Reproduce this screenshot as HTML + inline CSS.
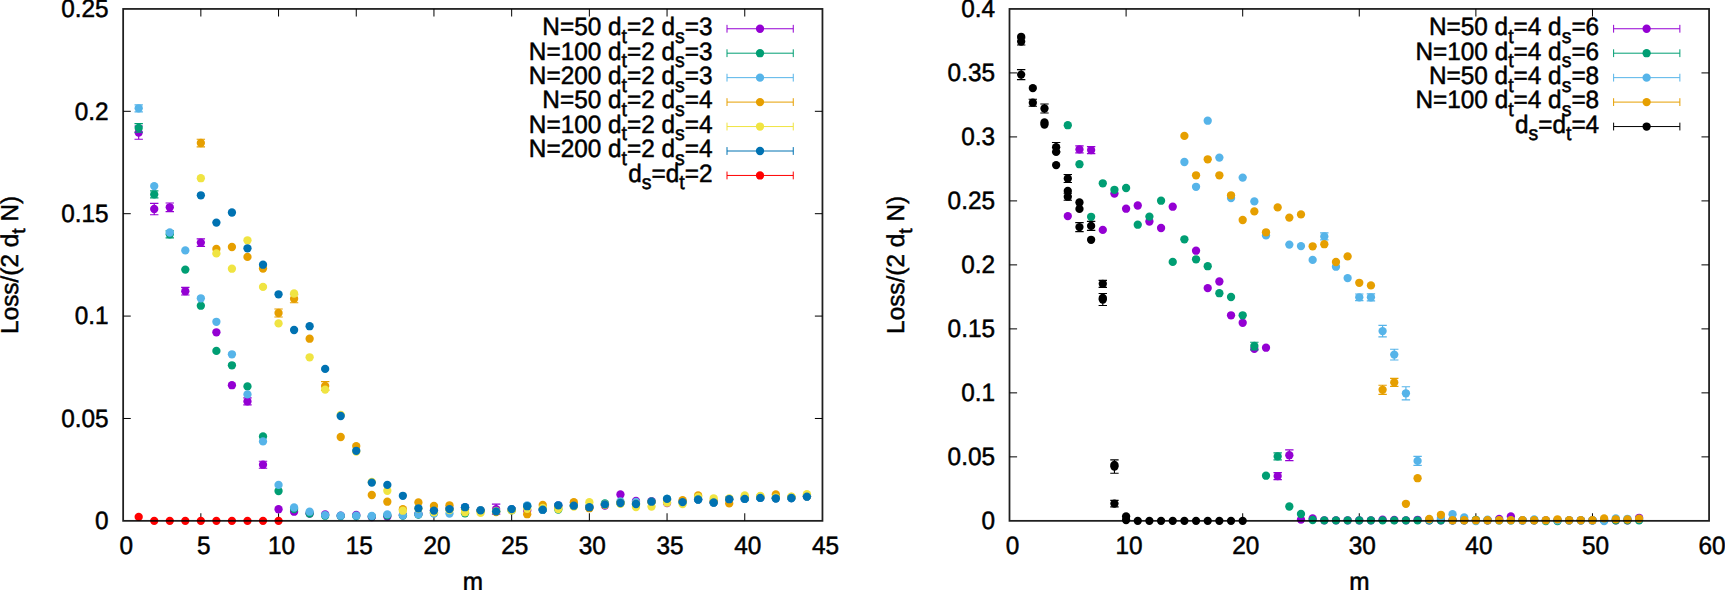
<!DOCTYPE html>
<html lang="en"><head><meta charset="utf-8"><title>Loss plots</title>
<style>
html,body{margin:0;padding:0;background:#fff}
body{width:1725px;height:590px;overflow:hidden}
svg{display:block}
svg text{text-rendering:geometricPrecision;font-family:"Liberation Sans",sans-serif;font-size:24.35px;fill:#000;stroke:#000;stroke-width:0.5px}
</style></head><body>
<svg width="1725" height="590" viewBox="0 0 1725 590">
<rect width="1725" height="590" fill="#fff"/>
<g>
<path d="M200.85 520.85v-7.6M200.85 8.93v7.6M278.55 520.85v-7.6M278.55 8.93v7.6M356.25 520.85v-7.6M356.25 8.93v7.6M433.95 520.85v-7.6M433.95 8.93v7.6M511.66 520.85v-7.6M511.66 8.93v7.6M589.36 520.85v-7.6M589.36 8.93v7.6M667.06 520.85v-7.6M667.06 8.93v7.6M744.76 520.85v-7.6M744.76 8.93v7.6M123.15 418.47h7.6M822.46 418.47h-7.6M123.15 316.08h7.6M822.46 316.08h-7.6M123.15 213.70h7.6M822.46 213.70h-7.6M123.15 111.31h7.6M822.46 111.31h-7.6" stroke="#000" stroke-width="1" fill="none"/>
<g class="tl">
<text transform="translate(126.15 553.70) scale(1 1.03)" text-anchor="middle">0</text>
<text transform="translate(203.85 553.70) scale(1 1.03)" text-anchor="middle">5</text>
<text transform="translate(281.55 553.70) scale(1 1.03)" text-anchor="middle">10</text>
<text transform="translate(359.25 553.70) scale(1 1.03)" text-anchor="middle">15</text>
<text transform="translate(436.95 553.70) scale(1 1.03)" text-anchor="middle">20</text>
<text transform="translate(514.66 553.70) scale(1 1.03)" text-anchor="middle">25</text>
<text transform="translate(592.36 553.70) scale(1 1.03)" text-anchor="middle">30</text>
<text transform="translate(670.06 553.70) scale(1 1.03)" text-anchor="middle">35</text>
<text transform="translate(747.76 553.70) scale(1 1.03)" text-anchor="middle">40</text>
<text transform="translate(825.46 553.70) scale(1 1.03)" text-anchor="middle">45</text>
<text transform="translate(108.65 529.25) scale(1 1.03)" text-anchor="end">0</text>
<text transform="translate(108.65 426.87) scale(1 1.03)" text-anchor="end">0.05</text>
<text transform="translate(108.65 324.48) scale(1 1.03)" text-anchor="end">0.1</text>
<text transform="translate(108.65 222.10) scale(1 1.03)" text-anchor="end">0.15</text>
<text transform="translate(108.65 119.71) scale(1 1.03)" text-anchor="end">0.2</text>
<text transform="translate(108.65 17.33) scale(1 1.03)" text-anchor="end">0.25</text>
</g>
<text transform="translate(472.81 590.20) scale(1 1.03)" text-anchor="middle">m</text>
<text transform="translate(17.90 264.9) rotate(-90)" text-anchor="middle">Loss/(2 d<tspan dy="7.3" font-size="19.5">t</tspan><tspan dy="-7.3"> N)</tspan></text>
<g fill="#9400d3" stroke="none">
<path d="M138.69 126.00V139.20M134.49 126.00h8.4M134.49 139.20h8.4M154.23 203.30V214.70M150.03 203.30h8.4M150.03 214.70h8.4M169.77 203.00V211.60M165.57 203.00h8.4M165.57 211.60h8.4M185.31 287.40V295.00M181.11 287.40h8.4M181.11 295.00h8.4M200.85 238.80V246.40M196.65 238.80h8.4M196.65 246.40h8.4M247.47 397.90V404.90M243.27 397.90h8.4M243.27 404.90h8.4M263.01 461.20V468.20M258.81 461.20h8.4M258.81 468.20h8.4M496.12 504.10V514.10M491.92 504.10h8.4M491.92 514.10h8.4" stroke="#9400d3" stroke-width="1.15" fill="none"/>
<circle cx="138.69" cy="132.60" r="4.15"/>
<circle cx="154.23" cy="209.00" r="4.15"/>
<circle cx="169.77" cy="207.30" r="4.15"/>
<circle cx="185.31" cy="291.20" r="4.15"/>
<circle cx="200.85" cy="242.60" r="4.15"/>
<circle cx="216.39" cy="332.30" r="4.15"/>
<circle cx="231.93" cy="385.20" r="4.15"/>
<circle cx="247.47" cy="401.40" r="4.15"/>
<circle cx="263.01" cy="464.70" r="4.15"/>
<circle cx="278.55" cy="509.20" r="4.15"/>
<circle cx="294.09" cy="511.70" r="4.15"/>
<circle cx="309.63" cy="513.50" r="4.15"/>
<circle cx="325.17" cy="514.40" r="4.15"/>
<circle cx="340.71" cy="515.70" r="4.15"/>
<circle cx="356.25" cy="515.00" r="4.15"/>
<circle cx="371.79" cy="517.00" r="4.15"/>
<circle cx="387.33" cy="516.50" r="4.15"/>
<circle cx="402.87" cy="515.00" r="4.15"/>
<circle cx="418.41" cy="514.00" r="4.15"/>
<circle cx="433.95" cy="510.60" r="4.15"/>
<circle cx="449.49" cy="509.10" r="4.15"/>
<circle cx="465.03" cy="507.20" r="4.15"/>
<circle cx="480.58" cy="510.40" r="4.15"/>
<circle cx="496.12" cy="509.10" r="4.15"/>
<circle cx="511.66" cy="509.10" r="4.15"/>
<circle cx="527.20" cy="510.40" r="4.15"/>
<circle cx="542.74" cy="509.70" r="4.15"/>
<circle cx="558.28" cy="505.30" r="4.15"/>
<circle cx="573.82" cy="505.70" r="4.15"/>
<circle cx="589.36" cy="507.20" r="4.15"/>
<circle cx="604.90" cy="505.50" r="4.15"/>
<circle cx="620.44" cy="494.50" r="4.15"/>
<circle cx="635.98" cy="500.90" r="4.15"/>
<circle cx="651.52" cy="501.20" r="4.15"/>
<circle cx="667.06" cy="503.00" r="4.15"/>
<circle cx="682.60" cy="502.10" r="4.15"/>
<circle cx="698.14" cy="499.50" r="4.15"/>
<circle cx="713.68" cy="502.50" r="4.15"/>
<circle cx="729.22" cy="499.20" r="4.15"/>
<circle cx="744.76" cy="498.90" r="4.15"/>
<circle cx="760.30" cy="497.90" r="4.15"/>
<circle cx="775.84" cy="498.30" r="4.15"/>
<circle cx="791.38" cy="498.00" r="4.15"/>
<circle cx="806.92" cy="496.60" r="4.15"/>
</g>
<g fill="#009e73" stroke="none">
<path d="M138.69 123.60V132.20M134.49 123.60h8.4M134.49 132.20h8.4M154.23 190.90V197.90M150.03 190.90h8.4M150.03 197.90h8.4M169.77 230.80V237.80M165.57 230.80h8.4M165.57 237.80h8.4" stroke="#009e73" stroke-width="1.15" fill="none"/>
<circle cx="138.69" cy="127.90" r="4.15"/>
<circle cx="154.23" cy="194.40" r="4.15"/>
<circle cx="169.77" cy="234.30" r="4.15"/>
<circle cx="185.31" cy="269.60" r="4.15"/>
<circle cx="200.85" cy="305.70" r="4.15"/>
<circle cx="216.39" cy="350.90" r="4.15"/>
<circle cx="231.93" cy="365.30" r="4.15"/>
<circle cx="247.47" cy="386.40" r="4.15"/>
<circle cx="263.01" cy="436.50" r="4.15"/>
<circle cx="278.55" cy="491.00" r="4.15"/>
<circle cx="294.09" cy="509.00" r="4.15"/>
<circle cx="309.63" cy="513.50" r="4.15"/>
<circle cx="325.17" cy="515.70" r="4.15"/>
<circle cx="340.71" cy="516.00" r="4.15"/>
<circle cx="356.25" cy="516.00" r="4.15"/>
<circle cx="371.79" cy="516.50" r="4.15"/>
<circle cx="387.33" cy="515.50" r="4.15"/>
<circle cx="402.87" cy="515.50" r="4.15"/>
<circle cx="418.41" cy="514.50" r="4.15"/>
<circle cx="433.95" cy="513.00" r="4.15"/>
<circle cx="449.49" cy="509.10" r="4.15"/>
<circle cx="465.03" cy="513.30" r="4.15"/>
<circle cx="480.58" cy="510.40" r="4.15"/>
<circle cx="496.12" cy="511.40" r="4.15"/>
<circle cx="511.66" cy="510.40" r="4.15"/>
<circle cx="527.20" cy="506.20" r="4.15"/>
<circle cx="542.74" cy="509.70" r="4.15"/>
<circle cx="558.28" cy="509.50" r="4.15"/>
<circle cx="573.82" cy="505.70" r="4.15"/>
<circle cx="589.36" cy="507.20" r="4.15"/>
<circle cx="604.90" cy="503.40" r="4.15"/>
<circle cx="620.44" cy="503.00" r="4.15"/>
<circle cx="635.98" cy="504.00" r="4.15"/>
<circle cx="651.52" cy="501.70" r="4.15"/>
<circle cx="667.06" cy="498.90" r="4.15"/>
<circle cx="682.60" cy="502.10" r="4.15"/>
<circle cx="698.14" cy="499.50" r="4.15"/>
<circle cx="713.68" cy="502.50" r="4.15"/>
<circle cx="729.22" cy="499.20" r="4.15"/>
<circle cx="744.76" cy="498.90" r="4.15"/>
<circle cx="760.30" cy="497.90" r="4.15"/>
<circle cx="775.84" cy="498.30" r="4.15"/>
<circle cx="791.38" cy="498.00" r="4.15"/>
<circle cx="806.92" cy="496.60" r="4.15"/>
</g>
<g fill="#56b4e9" stroke="none">
<path d="M138.69 104.80V111.80M134.49 104.80h8.4M134.49 111.80h8.4" stroke="#56b4e9" stroke-width="1.15" fill="none"/>
<circle cx="138.69" cy="108.30" r="4.15"/>
<circle cx="154.23" cy="186.10" r="4.15"/>
<circle cx="169.77" cy="232.50" r="4.15"/>
<circle cx="185.31" cy="250.40" r="4.15"/>
<circle cx="200.85" cy="298.30" r="4.15"/>
<circle cx="216.39" cy="321.80" r="4.15"/>
<circle cx="231.93" cy="354.30" r="4.15"/>
<circle cx="247.47" cy="394.40" r="4.15"/>
<circle cx="263.01" cy="441.40" r="4.15"/>
<circle cx="278.55" cy="484.90" r="4.15"/>
<circle cx="294.09" cy="507.50" r="4.15"/>
<circle cx="309.63" cy="511.70" r="4.15"/>
<circle cx="325.17" cy="515.10" r="4.15"/>
<circle cx="340.71" cy="515.70" r="4.15"/>
<circle cx="356.25" cy="515.70" r="4.15"/>
<circle cx="371.79" cy="516.00" r="4.15"/>
<circle cx="387.33" cy="514.40" r="4.15"/>
<circle cx="402.87" cy="515.30" r="4.15"/>
<circle cx="418.41" cy="514.20" r="4.15"/>
<circle cx="433.95" cy="513.50" r="4.15"/>
<circle cx="449.49" cy="513.60" r="4.15"/>
<circle cx="465.03" cy="507.20" r="4.15"/>
<circle cx="480.58" cy="510.40" r="4.15"/>
<circle cx="496.12" cy="511.40" r="4.15"/>
<circle cx="511.66" cy="509.10" r="4.15"/>
<circle cx="527.20" cy="505.30" r="4.15"/>
<circle cx="542.74" cy="509.70" r="4.15"/>
<circle cx="558.28" cy="505.30" r="4.15"/>
<circle cx="573.82" cy="505.70" r="4.15"/>
<circle cx="589.36" cy="507.20" r="4.15"/>
<circle cx="604.90" cy="504.40" r="4.15"/>
<circle cx="620.44" cy="501.50" r="4.15"/>
<circle cx="635.98" cy="502.00" r="4.15"/>
<circle cx="651.52" cy="501.70" r="4.15"/>
<circle cx="667.06" cy="498.90" r="4.15"/>
<circle cx="682.60" cy="502.10" r="4.15"/>
<circle cx="698.14" cy="499.50" r="4.15"/>
<circle cx="713.68" cy="502.50" r="4.15"/>
<circle cx="729.22" cy="499.20" r="4.15"/>
<circle cx="744.76" cy="498.90" r="4.15"/>
<circle cx="760.30" cy="497.90" r="4.15"/>
<circle cx="775.84" cy="498.30" r="4.15"/>
<circle cx="791.38" cy="498.00" r="4.15"/>
<circle cx="806.92" cy="496.60" r="4.15"/>
</g>
<g fill="#e69f00" stroke="none">
<path d="M200.85 139.20V146.80M196.65 139.20h8.4M196.65 146.80h8.4M278.55 309.00V317.00M274.35 309.00h8.4M274.35 317.00h8.4M294.09 294.70V302.70M289.89 294.70h8.4M289.89 302.70h8.4M325.17 381.60V390.40M320.97 381.60h8.4M320.97 390.40h8.4" stroke="#e69f00" stroke-width="1.15" fill="none"/>
<circle cx="200.85" cy="143.00" r="4.15"/>
<circle cx="216.39" cy="249.00" r="4.15"/>
<circle cx="231.93" cy="247.00" r="4.15"/>
<circle cx="247.47" cy="256.90" r="4.15"/>
<circle cx="263.01" cy="268.50" r="4.15"/>
<circle cx="278.55" cy="313.00" r="4.15"/>
<circle cx="294.09" cy="298.70" r="4.15"/>
<circle cx="309.63" cy="338.70" r="4.15"/>
<circle cx="325.17" cy="386.00" r="4.15"/>
<circle cx="340.71" cy="437.00" r="4.15"/>
<circle cx="356.25" cy="446.10" r="4.15"/>
<circle cx="371.79" cy="495.00" r="4.15"/>
<circle cx="387.33" cy="501.70" r="4.15"/>
<circle cx="402.87" cy="509.20" r="4.15"/>
<circle cx="418.41" cy="502.40" r="4.15"/>
<circle cx="433.95" cy="505.90" r="4.15"/>
<circle cx="449.49" cy="505.30" r="4.15"/>
<circle cx="465.03" cy="509.00" r="4.15"/>
<circle cx="480.58" cy="511.00" r="4.15"/>
<circle cx="496.12" cy="512.00" r="4.15"/>
<circle cx="511.66" cy="510.00" r="4.15"/>
<circle cx="527.20" cy="514.20" r="4.15"/>
<circle cx="542.74" cy="505.00" r="4.15"/>
<circle cx="558.28" cy="507.00" r="4.15"/>
<circle cx="573.82" cy="502.20" r="4.15"/>
<circle cx="589.36" cy="508.20" r="4.15"/>
<circle cx="604.90" cy="505.00" r="4.15"/>
<circle cx="620.44" cy="503.00" r="4.15"/>
<circle cx="635.98" cy="504.00" r="4.15"/>
<circle cx="651.52" cy="502.00" r="4.15"/>
<circle cx="667.06" cy="500.00" r="4.15"/>
<circle cx="682.60" cy="500.20" r="4.15"/>
<circle cx="698.14" cy="495.50" r="4.15"/>
<circle cx="713.68" cy="501.00" r="4.15"/>
<circle cx="729.22" cy="503.40" r="4.15"/>
<circle cx="744.76" cy="497.00" r="4.15"/>
<circle cx="760.30" cy="496.40" r="4.15"/>
<circle cx="775.84" cy="494.40" r="4.15"/>
<circle cx="791.38" cy="497.00" r="4.15"/>
<circle cx="806.92" cy="496.00" r="4.15"/>
</g>
<g fill="#f0e442" stroke="none">
<circle cx="200.85" cy="178.20" r="4.15"/>
<circle cx="216.39" cy="253.40" r="4.15"/>
<circle cx="231.93" cy="268.70" r="4.15"/>
<circle cx="247.47" cy="240.30" r="4.15"/>
<circle cx="263.01" cy="286.90" r="4.15"/>
<circle cx="278.55" cy="323.40" r="4.15"/>
<circle cx="294.09" cy="293.50" r="4.15"/>
<circle cx="309.63" cy="357.30" r="4.15"/>
<circle cx="325.17" cy="389.60" r="4.15"/>
<circle cx="340.71" cy="415.00" r="4.15"/>
<circle cx="356.25" cy="451.60" r="4.15"/>
<circle cx="371.79" cy="482.00" r="4.15"/>
<circle cx="387.33" cy="490.80" r="4.15"/>
<circle cx="402.87" cy="510.70" r="4.15"/>
<circle cx="418.41" cy="508.60" r="4.15"/>
<circle cx="433.95" cy="512.30" r="4.15"/>
<circle cx="449.49" cy="510.00" r="4.15"/>
<circle cx="465.03" cy="512.30" r="4.15"/>
<circle cx="480.58" cy="512.90" r="4.15"/>
<circle cx="496.12" cy="511.00" r="4.15"/>
<circle cx="511.66" cy="510.40" r="4.15"/>
<circle cx="527.20" cy="508.80" r="4.15"/>
<circle cx="542.74" cy="508.00" r="4.15"/>
<circle cx="558.28" cy="509.10" r="4.15"/>
<circle cx="573.82" cy="506.50" r="4.15"/>
<circle cx="589.36" cy="502.20" r="4.15"/>
<circle cx="604.90" cy="504.50" r="4.15"/>
<circle cx="620.44" cy="503.80" r="4.15"/>
<circle cx="635.98" cy="507.00" r="4.15"/>
<circle cx="651.52" cy="506.60" r="4.15"/>
<circle cx="667.06" cy="502.70" r="4.15"/>
<circle cx="682.60" cy="504.00" r="4.15"/>
<circle cx="698.14" cy="497.00" r="4.15"/>
<circle cx="713.68" cy="498.30" r="4.15"/>
<circle cx="729.22" cy="498.50" r="4.15"/>
<circle cx="744.76" cy="495.50" r="4.15"/>
<circle cx="760.30" cy="496.00" r="4.15"/>
<circle cx="775.84" cy="497.50" r="4.15"/>
<circle cx="791.38" cy="496.70" r="4.15"/>
<circle cx="806.92" cy="494.20" r="4.15"/>
</g>
<g fill="#0072b2" stroke="none">
<circle cx="200.85" cy="195.30" r="4.15"/>
<circle cx="216.39" cy="222.60" r="4.15"/>
<circle cx="231.93" cy="212.50" r="4.15"/>
<circle cx="247.47" cy="248.30" r="4.15"/>
<circle cx="263.01" cy="264.70" r="4.15"/>
<circle cx="278.55" cy="294.30" r="4.15"/>
<circle cx="294.09" cy="330.00" r="4.15"/>
<circle cx="309.63" cy="326.20" r="4.15"/>
<circle cx="325.17" cy="368.90" r="4.15"/>
<circle cx="340.71" cy="416.00" r="4.15"/>
<circle cx="356.25" cy="450.80" r="4.15"/>
<circle cx="371.79" cy="482.60" r="4.15"/>
<circle cx="387.33" cy="484.90" r="4.15"/>
<circle cx="402.87" cy="495.80" r="4.15"/>
<circle cx="418.41" cy="508.30" r="4.15"/>
<circle cx="433.95" cy="510.60" r="4.15"/>
<circle cx="449.49" cy="509.10" r="4.15"/>
<circle cx="465.03" cy="507.20" r="4.15"/>
<circle cx="480.58" cy="510.40" r="4.15"/>
<circle cx="496.12" cy="511.40" r="4.15"/>
<circle cx="511.66" cy="509.10" r="4.15"/>
<circle cx="527.20" cy="506.20" r="4.15"/>
<circle cx="542.74" cy="509.70" r="4.15"/>
<circle cx="558.28" cy="505.30" r="4.15"/>
<circle cx="573.82" cy="505.70" r="4.15"/>
<circle cx="589.36" cy="507.20" r="4.15"/>
<circle cx="604.90" cy="504.40" r="4.15"/>
<circle cx="620.44" cy="503.00" r="4.15"/>
<circle cx="635.98" cy="504.00" r="4.15"/>
<circle cx="651.52" cy="501.70" r="4.15"/>
<circle cx="667.06" cy="498.90" r="4.15"/>
<circle cx="682.60" cy="502.10" r="4.15"/>
<circle cx="698.14" cy="499.50" r="4.15"/>
<circle cx="713.68" cy="502.50" r="4.15"/>
<circle cx="729.22" cy="499.20" r="4.15"/>
<circle cx="744.76" cy="498.90" r="4.15"/>
<circle cx="760.30" cy="497.90" r="4.15"/>
<circle cx="775.84" cy="498.30" r="4.15"/>
<circle cx="791.38" cy="498.00" r="4.15"/>
<circle cx="806.92" cy="496.60" r="4.15"/>
</g>
<g fill="#ff0000" stroke="none">
<circle cx="138.69" cy="516.90" r="4.15"/>
<circle cx="154.23" cy="520.85" r="4.15"/>
<circle cx="169.77" cy="520.85" r="4.15"/>
<circle cx="185.31" cy="520.85" r="4.15"/>
<circle cx="200.85" cy="520.85" r="4.15"/>
<circle cx="216.39" cy="520.85" r="4.15"/>
<circle cx="231.93" cy="520.85" r="4.15"/>
<circle cx="247.47" cy="520.85" r="4.15"/>
<circle cx="263.01" cy="520.85" r="4.15"/>
<circle cx="278.55" cy="520.85" r="4.15"/>
</g>
<text transform="translate(712.56 35.05) scale(1 1.03)" text-anchor="end">N=50 d<tspan dy="7.4" font-size="19.5">t</tspan><tspan dy="-7.4">=2 d</tspan><tspan dy="7.4" font-size="19.5">s</tspan><tspan dy="-7.4">=3</tspan></text>
<path d="M727.01 28.75H793.26M727.01 24.85v7.8M793.26 24.85v7.8" stroke="#9400d3" stroke-width="1" fill="none"/>
<circle cx="760.01" cy="28.75" r="4.15" fill="#9400d3"/>
<text transform="translate(712.56 59.50) scale(1 1.03)" text-anchor="end">N=100 d<tspan dy="7.4" font-size="19.5">t</tspan><tspan dy="-7.4">=2 d</tspan><tspan dy="7.4" font-size="19.5">s</tspan><tspan dy="-7.4">=3</tspan></text>
<path d="M727.01 53.20H793.26M727.01 49.30v7.8M793.26 49.30v7.8" stroke="#009e73" stroke-width="1" fill="none"/>
<circle cx="760.01" cy="53.20" r="4.15" fill="#009e73"/>
<text transform="translate(712.56 83.95) scale(1 1.03)" text-anchor="end">N=200 d<tspan dy="7.4" font-size="19.5">t</tspan><tspan dy="-7.4">=2 d</tspan><tspan dy="7.4" font-size="19.5">s</tspan><tspan dy="-7.4">=3</tspan></text>
<path d="M727.01 77.65H793.26M727.01 73.75v7.8M793.26 73.75v7.8" stroke="#56b4e9" stroke-width="1" fill="none"/>
<circle cx="760.01" cy="77.65" r="4.15" fill="#56b4e9"/>
<text transform="translate(712.56 108.40) scale(1 1.03)" text-anchor="end">N=50 d<tspan dy="7.4" font-size="19.5">t</tspan><tspan dy="-7.4">=2 d</tspan><tspan dy="7.4" font-size="19.5">s</tspan><tspan dy="-7.4">=4</tspan></text>
<path d="M727.01 102.10H793.26M727.01 98.20v7.8M793.26 98.20v7.8" stroke="#e69f00" stroke-width="1" fill="none"/>
<circle cx="760.01" cy="102.10" r="4.15" fill="#e69f00"/>
<text transform="translate(712.56 132.85) scale(1 1.03)" text-anchor="end">N=100 d<tspan dy="7.4" font-size="19.5">t</tspan><tspan dy="-7.4">=2 d</tspan><tspan dy="7.4" font-size="19.5">s</tspan><tspan dy="-7.4">=4</tspan></text>
<path d="M727.01 126.55H793.26M727.01 122.65v7.8M793.26 122.65v7.8" stroke="#f0e442" stroke-width="1" fill="none"/>
<circle cx="760.01" cy="126.55" r="4.15" fill="#f0e442"/>
<text transform="translate(712.56 157.30) scale(1 1.03)" text-anchor="end">N=200 d<tspan dy="7.4" font-size="19.5">t</tspan><tspan dy="-7.4">=2 d</tspan><tspan dy="7.4" font-size="19.5">s</tspan><tspan dy="-7.4">=4</tspan></text>
<path d="M727.01 151.00H793.26M727.01 147.10v7.8M793.26 147.10v7.8" stroke="#0072b2" stroke-width="1" fill="none"/>
<circle cx="760.01" cy="151.00" r="4.15" fill="#0072b2"/>
<text transform="translate(712.56 181.75) scale(1 1.03)" text-anchor="end">d<tspan dy="7.4" font-size="19.5">s</tspan><tspan dy="-7.4">=d</tspan><tspan dy="7.4" font-size="19.5">t</tspan><tspan dy="-7.4">=2</tspan></text>
<path d="M727.01 175.45H793.26M727.01 171.55v7.8M793.26 171.55v7.8" stroke="#ff0000" stroke-width="1" fill="none"/>
<circle cx="760.01" cy="175.45" r="4.15" fill="#ff0000"/>
<rect x="123.15" y="8.93" width="699.31" height="511.92" fill="none" stroke="#000" stroke-opacity="0.88" stroke-width="1.78"/>
</g>
<g>
<path d="M1126.10 520.85v-7.6M1126.10 8.93v7.6M1242.69 520.85v-7.6M1242.69 8.93v7.6M1359.28 520.85v-7.6M1359.28 8.93v7.6M1475.88 520.85v-7.6M1475.88 8.93v7.6M1592.47 520.85v-7.6M1592.47 8.93v7.6M1009.50 456.86h7.6M1709.07 456.86h-7.6M1009.50 392.87h7.6M1709.07 392.87h-7.6M1009.50 328.88h7.6M1709.07 328.88h-7.6M1009.50 264.89h7.6M1709.07 264.89h-7.6M1009.50 200.90h7.6M1709.07 200.90h-7.6M1009.50 136.91h7.6M1709.07 136.91h-7.6M1009.50 72.92h7.6M1709.07 72.92h-7.6" stroke="#000" stroke-width="1" fill="none"/>
<g class="tl">
<text transform="translate(1012.50 553.70) scale(1 1.03)" text-anchor="middle">0</text>
<text transform="translate(1129.10 553.70) scale(1 1.03)" text-anchor="middle">10</text>
<text transform="translate(1245.69 553.70) scale(1 1.03)" text-anchor="middle">20</text>
<text transform="translate(1362.28 553.70) scale(1 1.03)" text-anchor="middle">30</text>
<text transform="translate(1478.88 553.70) scale(1 1.03)" text-anchor="middle">40</text>
<text transform="translate(1595.47 553.70) scale(1 1.03)" text-anchor="middle">50</text>
<text transform="translate(1712.07 553.70) scale(1 1.03)" text-anchor="middle">60</text>
<text transform="translate(995.00 529.25) scale(1 1.03)" text-anchor="end">0</text>
<text transform="translate(995.00 465.26) scale(1 1.03)" text-anchor="end">0.05</text>
<text transform="translate(995.00 401.27) scale(1 1.03)" text-anchor="end">0.1</text>
<text transform="translate(995.00 337.28) scale(1 1.03)" text-anchor="end">0.15</text>
<text transform="translate(995.00 273.29) scale(1 1.03)" text-anchor="end">0.2</text>
<text transform="translate(995.00 209.30) scale(1 1.03)" text-anchor="end">0.25</text>
<text transform="translate(995.00 145.31) scale(1 1.03)" text-anchor="end">0.3</text>
<text transform="translate(995.00 81.32) scale(1 1.03)" text-anchor="end">0.35</text>
<text transform="translate(995.00 17.33) scale(1 1.03)" text-anchor="end">0.4</text>
</g>
<text transform="translate(1359.28 590.20) scale(1 1.03)" text-anchor="middle">m</text>
<text transform="translate(904.25 264.9) rotate(-90)" text-anchor="middle">Loss/(2 d<tspan dy="7.3" font-size="19.5">t</tspan><tspan dy="-7.3"> N)</tspan></text>
<g fill="#9400d3" stroke="none">
<path d="M1079.46 145.90V152.90M1075.26 145.90h8.4M1075.26 152.90h8.4M1091.12 146.60V153.60M1086.92 146.60h8.4M1086.92 153.60h8.4M1277.67 472.60V479.60M1273.47 472.60h8.4M1273.47 479.60h8.4M1289.33 449.80V460.60M1285.13 449.80h8.4M1285.13 460.60h8.4" stroke="#9400d3" stroke-width="1.15" fill="none"/>
<circle cx="1067.80" cy="216.10" r="4.15"/>
<circle cx="1079.46" cy="149.40" r="4.15"/>
<circle cx="1091.12" cy="150.10" r="4.15"/>
<circle cx="1102.78" cy="229.90" r="4.15"/>
<circle cx="1114.44" cy="193.60" r="4.15"/>
<circle cx="1126.10" cy="208.70" r="4.15"/>
<circle cx="1137.75" cy="205.50" r="4.15"/>
<circle cx="1149.41" cy="221.50" r="4.15"/>
<circle cx="1161.07" cy="228.00" r="4.15"/>
<circle cx="1172.73" cy="206.70" r="4.15"/>
<circle cx="1196.05" cy="250.70" r="4.15"/>
<circle cx="1207.71" cy="288.10" r="4.15"/>
<circle cx="1219.37" cy="281.50" r="4.15"/>
<circle cx="1231.03" cy="315.30" r="4.15"/>
<circle cx="1242.69" cy="322.80" r="4.15"/>
<circle cx="1254.35" cy="348.90" r="4.15"/>
<circle cx="1266.01" cy="347.70" r="4.15"/>
<circle cx="1277.67" cy="476.10" r="4.15"/>
<circle cx="1289.33" cy="455.20" r="4.15"/>
<circle cx="1300.99" cy="519.60" r="4.15"/>
<circle cx="1312.65" cy="518.40" r="4.15"/>
<circle cx="1324.31" cy="520.30" r="4.15"/>
<circle cx="1335.97" cy="520.30" r="4.15"/>
<circle cx="1347.63" cy="520.30" r="4.15"/>
<circle cx="1359.28" cy="520.30" r="4.15"/>
<circle cx="1370.94" cy="520.30" r="4.15"/>
<circle cx="1382.60" cy="519.70" r="4.15"/>
<circle cx="1394.26" cy="520.00" r="4.15"/>
<circle cx="1405.92" cy="520.30" r="4.15"/>
<circle cx="1417.58" cy="519.80" r="4.15"/>
<circle cx="1429.24" cy="520.30" r="4.15"/>
<circle cx="1440.90" cy="520.30" r="4.15"/>
<circle cx="1452.56" cy="520.30" r="4.15"/>
<circle cx="1464.22" cy="520.30" r="4.15"/>
<circle cx="1475.88" cy="520.30" r="4.15"/>
<circle cx="1487.54" cy="520.30" r="4.15"/>
<circle cx="1499.20" cy="519.00" r="4.15"/>
<circle cx="1510.86" cy="516.50" r="4.15"/>
<circle cx="1522.52" cy="520.30" r="4.15"/>
<circle cx="1534.18" cy="520.30" r="4.15"/>
<circle cx="1545.84" cy="520.30" r="4.15"/>
<circle cx="1557.50" cy="520.30" r="4.15"/>
<circle cx="1569.16" cy="520.30" r="4.15"/>
<circle cx="1580.82" cy="520.30" r="4.15"/>
<circle cx="1592.47" cy="520.30" r="4.15"/>
<circle cx="1604.13" cy="520.30" r="4.15"/>
<circle cx="1615.79" cy="520.30" r="4.15"/>
<circle cx="1627.45" cy="520.30" r="4.15"/>
<circle cx="1639.11" cy="517.80" r="4.15"/>
</g>
<g fill="#009e73" stroke="none">
<path d="M1254.35 342.20V349.80M1250.15 342.20h8.4M1250.15 349.80h8.4M1277.67 452.90V459.90M1273.47 452.90h8.4M1273.47 459.90h8.4" stroke="#009e73" stroke-width="1.15" fill="none"/>
<circle cx="1067.80" cy="125.20" r="4.15"/>
<circle cx="1079.46" cy="164.20" r="4.15"/>
<circle cx="1091.12" cy="216.80" r="4.15"/>
<circle cx="1102.78" cy="183.30" r="4.15"/>
<circle cx="1114.44" cy="189.80" r="4.15"/>
<circle cx="1126.10" cy="188.00" r="4.15"/>
<circle cx="1137.75" cy="224.70" r="4.15"/>
<circle cx="1149.41" cy="216.60" r="4.15"/>
<circle cx="1161.07" cy="200.70" r="4.15"/>
<circle cx="1172.73" cy="261.90" r="4.15"/>
<circle cx="1184.39" cy="239.30" r="4.15"/>
<circle cx="1196.05" cy="259.30" r="4.15"/>
<circle cx="1207.71" cy="266.20" r="4.15"/>
<circle cx="1219.37" cy="293.20" r="4.15"/>
<circle cx="1231.03" cy="297.00" r="4.15"/>
<circle cx="1242.69" cy="315.30" r="4.15"/>
<circle cx="1254.35" cy="346.00" r="4.15"/>
<circle cx="1266.01" cy="475.70" r="4.15"/>
<circle cx="1277.67" cy="456.40" r="4.15"/>
<circle cx="1289.33" cy="506.50" r="4.15"/>
<circle cx="1300.99" cy="514.00" r="4.15"/>
<circle cx="1312.65" cy="520.00" r="4.15"/>
<circle cx="1324.31" cy="520.40" r="4.15"/>
<circle cx="1335.97" cy="520.40" r="4.15"/>
<circle cx="1347.63" cy="520.40" r="4.15"/>
<circle cx="1359.28" cy="520.40" r="4.15"/>
<circle cx="1370.94" cy="520.40" r="4.15"/>
<circle cx="1382.60" cy="520.40" r="4.15"/>
<circle cx="1394.26" cy="520.40" r="4.15"/>
<circle cx="1405.92" cy="520.40" r="4.15"/>
<circle cx="1417.58" cy="520.40" r="4.15"/>
<circle cx="1429.24" cy="520.40" r="4.15"/>
<circle cx="1440.90" cy="520.40" r="4.15"/>
<circle cx="1452.56" cy="520.40" r="4.15"/>
<circle cx="1464.22" cy="520.40" r="4.15"/>
<circle cx="1475.88" cy="519.80" r="4.15"/>
<circle cx="1487.54" cy="520.40" r="4.15"/>
<circle cx="1499.20" cy="520.40" r="4.15"/>
<circle cx="1510.86" cy="520.40" r="4.15"/>
<circle cx="1522.52" cy="520.40" r="4.15"/>
<circle cx="1534.18" cy="520.40" r="4.15"/>
<circle cx="1545.84" cy="521.00" r="4.15"/>
<circle cx="1557.50" cy="521.00" r="4.15"/>
<circle cx="1569.16" cy="520.40" r="4.15"/>
<circle cx="1580.82" cy="520.40" r="4.15"/>
<circle cx="1592.47" cy="520.40" r="4.15"/>
<circle cx="1604.13" cy="520.40" r="4.15"/>
<circle cx="1615.79" cy="520.40" r="4.15"/>
<circle cx="1627.45" cy="520.40" r="4.15"/>
<circle cx="1639.11" cy="520.40" r="4.15"/>
</g>
<g fill="#56b4e9" stroke="none">
<path d="M1324.31 232.90V239.90M1320.11 232.90h8.4M1320.11 239.90h8.4M1359.28 294.00V300.60M1355.08 294.00h8.4M1355.08 300.60h8.4M1370.94 293.80V300.80M1366.74 293.80h8.4M1366.74 300.80h8.4M1382.60 325.30V336.90M1378.40 325.30h8.4M1378.40 336.90h8.4M1394.26 349.20V360.00M1390.06 349.20h8.4M1390.06 360.00h8.4M1405.92 386.70V399.90M1401.72 386.70h8.4M1401.72 399.90h8.4M1417.58 456.40V465.40M1413.38 456.40h8.4M1413.38 465.40h8.4" stroke="#56b4e9" stroke-width="1.15" fill="none"/>
<circle cx="1184.39" cy="162.00" r="4.15"/>
<circle cx="1196.05" cy="186.80" r="4.15"/>
<circle cx="1207.71" cy="120.70" r="4.15"/>
<circle cx="1219.37" cy="157.60" r="4.15"/>
<circle cx="1231.03" cy="198.10" r="4.15"/>
<circle cx="1242.69" cy="177.60" r="4.15"/>
<circle cx="1254.35" cy="201.40" r="4.15"/>
<circle cx="1266.01" cy="235.40" r="4.15"/>
<circle cx="1289.33" cy="244.60" r="4.15"/>
<circle cx="1300.99" cy="246.10" r="4.15"/>
<circle cx="1312.65" cy="259.90" r="4.15"/>
<circle cx="1324.31" cy="236.40" r="4.15"/>
<circle cx="1335.97" cy="266.70" r="4.15"/>
<circle cx="1347.63" cy="278.10" r="4.15"/>
<circle cx="1359.28" cy="297.30" r="4.15"/>
<circle cx="1370.94" cy="297.30" r="4.15"/>
<circle cx="1382.60" cy="331.10" r="4.15"/>
<circle cx="1394.26" cy="354.60" r="4.15"/>
<circle cx="1405.92" cy="393.30" r="4.15"/>
<circle cx="1417.58" cy="460.90" r="4.15"/>
<circle cx="1429.24" cy="519.50" r="4.15"/>
<circle cx="1440.90" cy="518.00" r="4.15"/>
<circle cx="1452.56" cy="514.20" r="4.15"/>
<circle cx="1464.22" cy="517.40" r="4.15"/>
<circle cx="1475.88" cy="521.00" r="4.15"/>
<circle cx="1487.54" cy="519.70" r="4.15"/>
<circle cx="1499.20" cy="520.30" r="4.15"/>
<circle cx="1510.86" cy="520.30" r="4.15"/>
<circle cx="1522.52" cy="520.30" r="4.15"/>
<circle cx="1534.18" cy="519.50" r="4.15"/>
<circle cx="1545.84" cy="520.30" r="4.15"/>
<circle cx="1557.50" cy="520.30" r="4.15"/>
<circle cx="1569.16" cy="520.30" r="4.15"/>
<circle cx="1580.82" cy="520.30" r="4.15"/>
<circle cx="1592.47" cy="520.30" r="4.15"/>
<circle cx="1604.13" cy="521.00" r="4.15"/>
<circle cx="1615.79" cy="518.40" r="4.15"/>
<circle cx="1627.45" cy="518.80" r="4.15"/>
<circle cx="1639.11" cy="519.00" r="4.15"/>
</g>
<g fill="#e69f00" stroke="none">
<path d="M1382.60 385.20V394.40M1378.40 385.20h8.4M1378.40 394.40h8.4M1394.26 378.40V386.40M1390.06 378.40h8.4M1390.06 386.40h8.4" stroke="#e69f00" stroke-width="1.15" fill="none"/>
<circle cx="1184.39" cy="135.90" r="4.15"/>
<circle cx="1196.05" cy="175.30" r="4.15"/>
<circle cx="1207.71" cy="159.30" r="4.15"/>
<circle cx="1219.37" cy="175.30" r="4.15"/>
<circle cx="1231.03" cy="195.30" r="4.15"/>
<circle cx="1242.69" cy="220.00" r="4.15"/>
<circle cx="1254.35" cy="211.40" r="4.15"/>
<circle cx="1266.01" cy="232.30" r="4.15"/>
<circle cx="1277.67" cy="207.40" r="4.15"/>
<circle cx="1289.33" cy="217.60" r="4.15"/>
<circle cx="1300.99" cy="214.40" r="4.15"/>
<circle cx="1312.65" cy="246.30" r="4.15"/>
<circle cx="1324.31" cy="244.20" r="4.15"/>
<circle cx="1335.97" cy="262.00" r="4.15"/>
<circle cx="1347.63" cy="256.40" r="4.15"/>
<circle cx="1359.28" cy="282.80" r="4.15"/>
<circle cx="1370.94" cy="285.40" r="4.15"/>
<circle cx="1382.60" cy="389.80" r="4.15"/>
<circle cx="1394.26" cy="382.40" r="4.15"/>
<circle cx="1405.92" cy="503.80" r="4.15"/>
<circle cx="1417.58" cy="478.20" r="4.15"/>
<circle cx="1429.24" cy="519.00" r="4.15"/>
<circle cx="1440.90" cy="514.80" r="4.15"/>
<circle cx="1452.56" cy="520.20" r="4.15"/>
<circle cx="1464.22" cy="520.20" r="4.15"/>
<circle cx="1475.88" cy="520.20" r="4.15"/>
<circle cx="1487.54" cy="520.20" r="4.15"/>
<circle cx="1499.20" cy="520.20" r="4.15"/>
<circle cx="1510.86" cy="520.20" r="4.15"/>
<circle cx="1522.52" cy="520.20" r="4.15"/>
<circle cx="1534.18" cy="520.20" r="4.15"/>
<circle cx="1545.84" cy="520.20" r="4.15"/>
<circle cx="1557.50" cy="519.30" r="4.15"/>
<circle cx="1569.16" cy="520.20" r="4.15"/>
<circle cx="1580.82" cy="520.20" r="4.15"/>
<circle cx="1592.47" cy="520.20" r="4.15"/>
<circle cx="1604.13" cy="518.40" r="4.15"/>
<circle cx="1615.79" cy="519.30" r="4.15"/>
<circle cx="1627.45" cy="519.50" r="4.15"/>
<circle cx="1639.11" cy="518.70" r="4.15"/>
</g>
<g fill="#000000" stroke="none">
<path d="M1021.16 38.00V45.00M1016.96 38.00h8.4M1016.96 45.00h8.4M1021.16 69.60V79.60M1016.96 69.60h8.4M1016.96 79.60h8.4M1032.82 99.20V106.20M1028.62 99.20h8.4M1028.62 106.20h8.4M1044.48 104.00V113.00M1040.28 104.00h8.4M1040.28 113.00h8.4M1056.14 142.50V151.90M1051.94 142.50h8.4M1051.94 151.90h8.4M1067.80 174.50V182.50M1063.60 174.50h8.4M1063.60 182.50h8.4M1067.80 193.20V200.20M1063.60 193.20h8.4M1063.60 200.20h8.4M1079.46 222.60V231.60M1075.26 222.60h8.4M1075.26 231.60h8.4M1091.12 221.40V230.40M1086.92 221.40h8.4M1086.92 230.40h8.4M1102.78 280.30V287.30M1098.58 280.30h8.4M1098.58 287.30h8.4M1102.78 293.50V305.50M1098.58 293.50h8.4M1098.58 305.50h8.4M1114.44 459.80V473.20M1110.24 459.80h8.4M1110.24 473.20h8.4M1114.44 500.30V506.90M1110.24 500.30h8.4M1110.24 506.90h8.4" stroke="#000000" stroke-width="1.15" fill="none"/>
<circle cx="1021.16" cy="36.80" r="4.15"/>
<circle cx="1021.16" cy="41.50" r="4.15"/>
<circle cx="1021.16" cy="74.60" r="4.15"/>
<circle cx="1032.82" cy="88.10" r="4.15"/>
<circle cx="1032.82" cy="102.70" r="4.15"/>
<circle cx="1044.48" cy="108.50" r="4.15"/>
<circle cx="1044.48" cy="122.50" r="4.15"/>
<circle cx="1044.48" cy="124.50" r="4.15"/>
<circle cx="1056.14" cy="147.20" r="4.15"/>
<circle cx="1056.14" cy="151.90" r="4.15"/>
<circle cx="1056.14" cy="165.10" r="4.15"/>
<circle cx="1067.80" cy="178.50" r="4.15"/>
<circle cx="1067.80" cy="191.00" r="4.15"/>
<circle cx="1067.80" cy="196.70" r="4.15"/>
<circle cx="1079.46" cy="202.50" r="4.15"/>
<circle cx="1079.46" cy="208.90" r="4.15"/>
<circle cx="1079.46" cy="227.10" r="4.15"/>
<circle cx="1091.12" cy="225.90" r="4.15"/>
<circle cx="1091.12" cy="239.80" r="4.15"/>
<circle cx="1102.78" cy="283.80" r="4.15"/>
<circle cx="1102.78" cy="298.00" r="4.15"/>
<circle cx="1102.78" cy="299.50" r="4.15"/>
<circle cx="1114.44" cy="466.50" r="4.15"/>
<circle cx="1114.44" cy="465.00" r="4.15"/>
<circle cx="1114.44" cy="503.60" r="4.15"/>
<circle cx="1126.10" cy="516.50" r="4.15"/>
<circle cx="1126.10" cy="520.00" r="4.15"/>
<circle cx="1137.75" cy="520.85" r="4.15"/>
<circle cx="1149.41" cy="520.85" r="4.15"/>
<circle cx="1161.07" cy="520.85" r="4.15"/>
<circle cx="1172.73" cy="520.85" r="4.15"/>
<circle cx="1184.39" cy="520.85" r="4.15"/>
<circle cx="1196.05" cy="520.85" r="4.15"/>
<circle cx="1207.71" cy="520.85" r="4.15"/>
<circle cx="1219.37" cy="520.85" r="4.15"/>
<circle cx="1231.03" cy="520.85" r="4.15"/>
<circle cx="1242.69" cy="520.85" r="4.15"/>
</g>
<text transform="translate(1599.17 35.05) scale(1 1.03)" text-anchor="end">N=50 d<tspan dy="7.4" font-size="19.5">t</tspan><tspan dy="-7.4">=4 d</tspan><tspan dy="7.4" font-size="19.5">s</tspan><tspan dy="-7.4">=6</tspan></text>
<path d="M1613.62 28.75H1679.87M1613.62 24.85v7.8M1679.87 24.85v7.8" stroke="#9400d3" stroke-width="1" fill="none"/>
<circle cx="1646.62" cy="28.75" r="4.15" fill="#9400d3"/>
<text transform="translate(1599.17 59.50) scale(1 1.03)" text-anchor="end">N=100 d<tspan dy="7.4" font-size="19.5">t</tspan><tspan dy="-7.4">=4 d</tspan><tspan dy="7.4" font-size="19.5">s</tspan><tspan dy="-7.4">=6</tspan></text>
<path d="M1613.62 53.20H1679.87M1613.62 49.30v7.8M1679.87 49.30v7.8" stroke="#009e73" stroke-width="1" fill="none"/>
<circle cx="1646.62" cy="53.20" r="4.15" fill="#009e73"/>
<text transform="translate(1599.17 83.95) scale(1 1.03)" text-anchor="end">N=50 d<tspan dy="7.4" font-size="19.5">t</tspan><tspan dy="-7.4">=4 d</tspan><tspan dy="7.4" font-size="19.5">s</tspan><tspan dy="-7.4">=8</tspan></text>
<path d="M1613.62 77.65H1679.87M1613.62 73.75v7.8M1679.87 73.75v7.8" stroke="#56b4e9" stroke-width="1" fill="none"/>
<circle cx="1646.62" cy="77.65" r="4.15" fill="#56b4e9"/>
<text transform="translate(1599.17 108.40) scale(1 1.03)" text-anchor="end">N=100 d<tspan dy="7.4" font-size="19.5">t</tspan><tspan dy="-7.4">=4 d</tspan><tspan dy="7.4" font-size="19.5">s</tspan><tspan dy="-7.4">=8</tspan></text>
<path d="M1613.62 102.10H1679.87M1613.62 98.20v7.8M1679.87 98.20v7.8" stroke="#e69f00" stroke-width="1" fill="none"/>
<circle cx="1646.62" cy="102.10" r="4.15" fill="#e69f00"/>
<text transform="translate(1599.17 132.85) scale(1 1.03)" text-anchor="end">d<tspan dy="7.4" font-size="19.5">s</tspan><tspan dy="-7.4">=d</tspan><tspan dy="7.4" font-size="19.5">t</tspan><tspan dy="-7.4">=4</tspan></text>
<path d="M1613.62 126.55H1679.87M1613.62 122.65v7.8M1679.87 122.65v7.8" stroke="#000000" stroke-width="1" fill="none"/>
<circle cx="1646.62" cy="126.55" r="4.15" fill="#000000"/>
<rect x="1009.50" y="8.93" width="699.57" height="511.92" fill="none" stroke="#000" stroke-opacity="0.88" stroke-width="1.78"/>
</g>
</svg>
</body></html>
